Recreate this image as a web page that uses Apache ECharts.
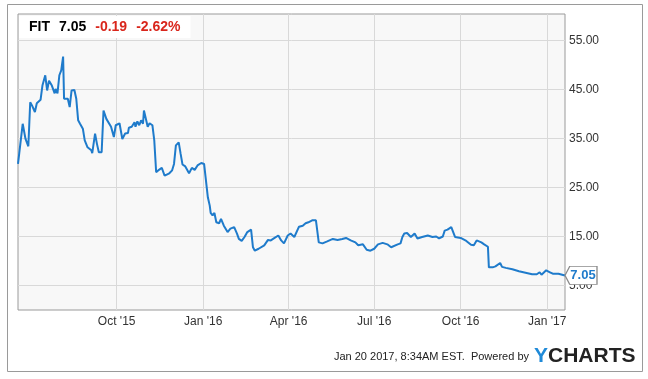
<!DOCTYPE html>
<html>
<head>
<meta charset="utf-8">
<script src="https://cdn.jsdelivr.net/npm/echarts@6/dist/echarts.min.js"></script>
<style>
html,body{margin:0;padding:0;background:#fff;}
#c{width:648px;height:379px;}
</style>
</head>
<body>
<div id="c"></div>
<script>
const dates = [
'2015-06-18','2015-06-23','2015-06-26','2015-06-29','2015-07-01','2015-07-03','2015-07-06','2015-07-08','2015-07-12','2015-07-14',
'2015-07-17','2015-07-19','2015-07-21','2015-07-24','2015-07-27','2015-07-28','2015-07-30','2015-08-01','2015-08-03','2015-08-05',
'2015-08-06','2015-08-08','2015-08-10','2015-08-12','2015-08-14','2015-08-17','2015-08-19','2015-08-21','2015-08-23','2015-08-26',
'2015-08-28','2015-08-29','2015-08-31','2015-09-02','2015-09-04','2015-09-05','2015-09-08','2015-09-10','2015-09-12','2015-09-15',
'2015-09-17','2015-09-20','2015-09-22','2015-09-25','2015-09-28','2015-09-30','2015-10-04','2015-10-07','2015-10-10','2015-10-13',
'2015-10-14','2015-10-17','2015-10-20','2015-10-21','2015-10-23','2015-10-25','2015-10-27','2015-10-29','2015-10-30','2015-11-01',
'2015-11-03','2015-11-05','2015-11-08','2015-11-10','2015-11-12','2015-11-15','2015-11-18','2015-11-21','2015-11-23','2015-11-26',
'2015-11-29','2015-12-01','2015-12-03','2015-12-06','2015-12-08','2015-12-10','2015-12-13','2015-12-15','2015-12-17','2015-12-20',
'2015-12-23','2015-12-26','2015-12-30','2016-01-02','2016-01-04','2016-01-06','2016-01-08','2016-01-09','2016-01-11','2016-01-13',
'2016-01-15','2016-01-18','2016-01-20','2016-01-23','2016-01-27','2016-01-30','2016-02-03','2016-02-06','2016-02-08','2016-02-11',
'2016-02-14','2016-02-17','2016-02-19','2016-02-21','2016-02-23','2016-02-25','2016-02-29','2016-03-02','2016-03-06','2016-03-10',
'2016-03-13','2016-03-17','2016-03-21','2016-03-24','2016-03-27','2016-03-31','2016-04-03','2016-04-07','2016-04-12','2016-04-16',
'2016-04-19','2016-04-22','2016-04-26','2016-04-28','2016-04-30','2016-05-03','2016-05-07','2016-05-12','2016-05-18','2016-05-23',
'2016-05-28','2016-06-01','2016-06-06','2016-06-11','2016-06-14','2016-06-19','2016-06-23','2016-06-27','2016-07-01','2016-07-05',
'2016-07-10','2016-07-15','2016-07-19','2016-07-26','2016-07-29','2016-07-31','2016-08-02','2016-08-05','2016-08-09','2016-08-13',
'2016-08-16','2016-08-21','2016-08-27','2016-08-29','2016-09-01','2016-09-05','2016-09-08','2016-09-12','2016-09-14','2016-09-17',
'2016-09-21','2016-09-23','2016-09-25','2016-10-01','2016-10-07','2016-10-12','2016-10-15','2016-10-18','2016-10-23','2016-10-26',
'2016-10-30','2016-10-31','2016-11-04','2016-11-07','2016-11-12','2016-11-14','2016-11-18','2016-11-25','2016-12-02','2016-12-09',
'2016-12-16','2016-12-21','2016-12-24','2016-12-26','2016-12-31','2017-01-04','2017-01-07','2017-01-13','2017-01-17','2017-01-20'
];
const prices = [
29.8,38.0,34.9,33.4,42.4,41.7,40.4,42.2,42.9,45.8,
47.9,44.8,46.8,45.8,44.2,45.1,44.2,47.9,48.9,51.7,
43.1,42.8,43.1,41.4,44.8,44.9,43.1,38.7,38.0,37.0,
34.6,34.2,33.2,33.6,32.6,32.0,36.0,33.9,32.2,32.2,
40.7,39.0,39.2,37.4,35.3,37.7,38.1,34.9,36.0,36.1,
37.2,37.4,38.3,37.4,38.5,37.7,38.7,38.0,40.7,40.9,
37.4,38.1,37.7,34.6,28.1,28.6,29.0,27.4,27.0,27.9,
28.5,29.8,33.6,34.2,31.9,29.7,29.3,29.7,27.9,29.0,
28.6,29.5,30.0,29.8,29.7,23.0,21.3,19.8,19.3,19.8,
17.9,17.7,18.6,17.2,15.9,16.6,16.9,15.6,14.5,14.1,
14.9,15.9,16.2,16.4,12.8,12.1,12.5,12.8,13.2,14.3,
14.2,14.7,15.2,14.2,13.6,15.2,15.6,14.9,17.0,17.2,
17.7,17.9,18.3,18.4,18.3,13.8,13.6,14.0,14.5,14.3,
14.5,14.7,14.2,13.8,13.2,13.4,12.3,12.1,12.5,13.4,
13.7,13.4,12.8,13.4,13.6,14.9,15.6,15.7,14.9,15.6,
14.6,14.9,15.2,15.4,14.9,15.0,14.6,15.0,16.2,16.4,
16.9,16.8,14.9,14.7,14.1,13.3,13.2,14.2,13.8,13.4,
12.9,8.7,8.7,8.9,9.6,8.8,8.6,8.3,7.9,7.6,
7.3,7.3,7.7,7.2,8.1,7.7,7.4,7.4,7.2,7.05
];
const xTickDates = ['2015-10-01','2016-01-01','2016-04-01','2016-07-01','2016-10-01','2017-01-01'];
const xTickLabels = ["Oct '15","Jan '16","Apr '16","Jul '16","Oct '16","Jan '17"];
const yTicks = [5, 15, 25, 35, 45, 55];
const ticker = 'FIT';
const lastPrice = '7.05';
const change = '-0.19';
const changePct = '-2.62%';

const FONT = 'Arial, "Liberation Sans", sans-serif';
const chart = echarts.init(document.getElementById('c'), null, {renderer: 'canvas'});
const tp = s => { const p = s.split('-').map(Number); return Date.UTC(p[0], p[1] - 1, p[2]); };
const xTickVals = xTickDates.map(tp);
const data = dates.map((d, i) => [tp(d), prices[i]]);
const last = data[data.length - 1];

chart.setOption({
  animation: false,
  backgroundColor: '#fff',
  title: {
    left: 19, top: 15,
    padding: [4, 10, 4, 10],
    backgroundColor: '#fff',
    text: '{a|' + ticker + '}{g| }{a|' + lastPrice + '}{g| }{r|' + change + '}{g| }{r|' + changePct + '}',
    textStyle: {
      fontFamily: FONT,
      rich: {
        a: {fontSize: 14, fontWeight: 'bold', color: '#000', fontFamily: FONT, lineHeight: 16},
        r: {fontSize: 14, fontWeight: 'bold', color: '#d9261c', fontFamily: FONT, lineHeight: 16},
        g: {width: 9, fontSize: 14, lineHeight: 16}
      }
    }
  },
  grid: {
    left: 18, right: 83, top: 14, bottom: 69,
    show: true, backgroundColor: '#f8f8f8', borderColor: '#9a9a9a', borderWidth: 1
  },
  xAxis: {
    type: 'value',
    min: tp('2015-06-18'), max: tp('2017-01-20'),
    axisLine: {show: false},
    axisTick: {show: false, customValues: xTickVals},
    splitLine: {show: true, lineStyle: {color: '#d9d9d9', width: 1}},
    axisLabel: {
      customValues: xTickVals,
      formatter: v => { const i = xTickVals.indexOf(v); return i >= 0 ? xTickLabels[i] : ''; },
      fontFamily: FONT, fontSize: 12, color: '#333', margin: 6
    }
  },
  yAxis: {
    type: 'value', position: 'right',
    min: 0, max: 60.4,
    axisLine: {show: false},
    axisTick: {show: false, customValues: yTicks},
    splitLine: {show: true, lineStyle: {color: '#d9d9d9', width: 1}},
    axisLabel: {
      customValues: yTicks,
      formatter: v => v.toFixed(2),
      fontFamily: FONT, fontSize: 12, color: '#333', margin: 4
    }
  },
  series: [{
    type: 'line',
    data: data,
    showSymbol: false,
    symbol: 'none',
    lineStyle: {color: '#1f7bcb', width: 2},
    clip: false,
    markPoint: {
      symbol: 'path://M0,9 L5,0 L34,0 L34,18 L5,18 Z',
      symbolSize: [32, 18],
      symbolKeepAspect: false,
      symbolOffset: ['50%', 0],
      itemStyle: {color: '#fff', borderColor: '#8a8a8a', borderWidth: 1},
      label: {
        show: true, position: 'inside', offset: [2, 0],
        formatter: lastPrice,
        fontFamily: FONT, fontSize: 13, fontWeight: 'bold', color: '#1f7bcb'
      },
      data: [{coord: last, value: last[1]}]
    }
  }],
  graphic: [
    {type: 'rect', silent: true, z: 100,
     shape: {x: 7.5, y: 4.5, width: 635, height: 367},
     style: {fill: 'none', stroke: '#9a9a9a', lineWidth: 1}},
    {type: 'text', z: 100, x: 529, y: 357,
     style: {text: 'Jan 20 2017, 8:34AM EST.  Powered by', font: '11px ' + FONT, fill: '#222',
             align: 'right', verticalAlign: 'middle'}},
    {type: 'text', z: 100, x: 534, y: 356,
     style: {
       text: '{y|Y}{c|CHARTS}',
       verticalAlign: 'middle',
       rich: {
         y: {font: 'bold 21px ' + FONT, fill: '#1f8ad8'},
         c: {font: 'bold 21px ' + FONT, fill: '#222'}
       }
     }}
  ]
});
</script>
</body>
</html>
